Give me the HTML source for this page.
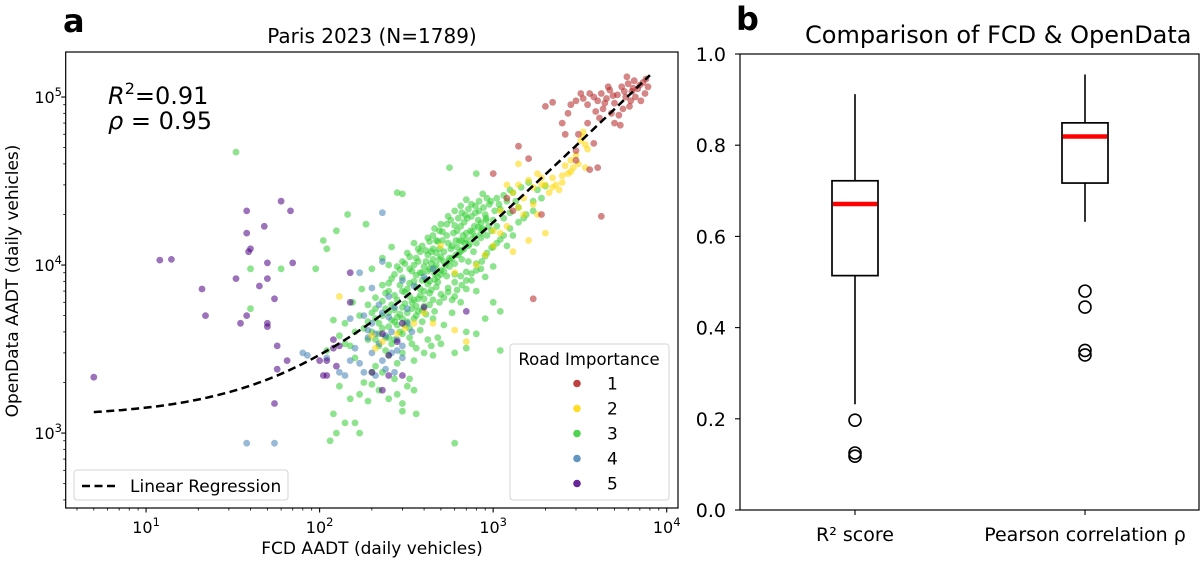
<!DOCTYPE html>
<html><head><meta charset="utf-8">
<style>
html,body{margin:0;padding:0;background:#fff;}
svg{display:block;font-family:"DejaVu Sans","Liberation Sans",sans-serif;}
</style></head>
<body>
<svg id="fig" width="1200" height="561" viewBox="0 0 1200 561" xmlns="http://www.w3.org/2000/svg">
<text x="63" y="32" font-size="32" font-weight="bold">a</text>
<text x="372" y="43" font-size="20" text-anchor="middle">Paris 2023 (N=1789)</text>
<text x="736" y="30" font-size="32" font-weight="bold">b</text>
<text x="805" y="43" font-size="24">Comparison of FCD &amp; OpenData</text>
<g id="scatterG"></g>
<g id="boxG"></g>
</svg>
<script>
// ---------- Panel a data ----------
const classLabels = ["1","2","3","4","5"];
const classColors = ["#b22222","#ffd700","#32cd32","#4682b4","#4b0082"];
const xTickValues = [10,100,1000,10000];
const xTickExps = ["1","2","3","4"];
const yTickValues = [1000,10000,100000];
const yTickExps = ["3","4","5"];
const regIntercept = [1250];
const regSlope = [16.7];
const green = [[180,4200],[190,3600],[200,5200],[210,4800],[220,3900],[230,6100],[240,5500],[250,4300],[250,7000],[260,5800],[270,6600],[280,4900],[290,7600],[300,5600],[300,8400],[310,6900],[320,4600],[330,7800],[340,9200],[350,6200],[360,8700],[370,10500],[380,7200],[390,5400],[400,9800],[410,8200],[420,11500],[430,6800],[440,10200],[450,12500],[460,8900],[470,7400],[480,13800],[490,10800],[500,9300],[520,12000],[540,15000],[560,11000],[580,13000],[600,8800],[620,16000],[640,14000],[660,12200],[680,18000],[700,15500],[720,10500],[750,19500],[780,17000],[800,13500],[830,21000],[860,16500],[900,20000],[950,23000],[1000,18500],[1050,25000],[1100,21500],[1200,24000],[1300,27000],[1400,22000],[150,3300],[160,2800],[170,5000],[130,3800],[140,4500],[120,4700],[110,3100],[155,6000],[175,7200],[200,9500],[230,11000],[260,12800],[210,2500],[240,3100],[270,3600],[300,3900],[330,4200],[360,5000],[400,5700],[450,6200],[500,6700],[550,7300],[600,7900],[650,8600],[700,9100],[800,10200],[900,11300],[1000,12800],[1100,14200],[280,9800],[320,11800],[350,13500],[380,12000],[420,14500],[460,16500],[500,17500],[550,19500],[600,21000],[650,22500],[700,24500],[450,4800],[380,4100],[340,3400],[250,2900],[200,2300],[180,2000],[170,1700],[150,1600],[130,1900],[120,1300],[125,1000],[115,900],[140,1150],[160,1150],[170,1000],[220,1800],[250,1600],[280,1700],[300,1500],[320,1900],[350,2700],[400,3000],[450,2900],[500,3400],[600,3000],[700,3200],[800,3900],[900,4800],[1000,6000],[1100,5300],[200,1950],[190,1550],[600,870],[1100,3100],[1300,15000],[1500,19000],[1200,13000],[1000,9800],[900,8500],[800,7000],[650,6000],[580,5200],[520,4400],[480,3700],[440,3300],[95,9500],[105,14000],[110,12500],[125,16000],[145,20000],[185,17500],[280,27000],[300,26500],[560,38000],[800,35000],[33,47000],[40,9500],[40,5500],[60,9500],[300,1350],[360,1300],[330,2100],[270,2100],[230,2300],[350,1800],[700,4000],[250,10000],[300,10500],[330,9500],[360,11000],[390,9000],[430,9500],[470,10000],[520,10500],[560,9800],[610,11500],[660,10800],[720,13000],[770,12000],[850,14500],[920,15000],[980,16000],[1050,17000],[1150,19000],[1250,20500],[1350,24000],[1450,29000],[1600,31000],[1700,24000],[1800,28000],[1900,25000],[2000,29500],[230,7600],[260,8300],[210,6400],[190,5800],[160,4000],[140,3400],[600,6500],[700,7200],[750,8100],[850,9500],[300,3000],[280,2600],[420,3600],[360,3200],
[200,4000],[210,5500],[220,4500],[230,5000],[240,6800],[250,5200],[260,4700],[270,5400],[280,6200],[290,5100],[300,7000],[310,5900],[320,7200],[330,6500],[340,5500],[350,8000],[360,7400],[370,6300],[380,9000],[390,8100],[400,7000],[410,10500],[420,9200],[430,8000],[440,12000],[450,10800],[460,9600],[470,11800],[480,8500],[490,12500],[500,11200],[510,14000],[530,10000],[550,13500],[570,12500],[590,15500],[610,14000],[630,11500],[650,17000],[670,15000],[690,13500],[710,19000],[740,16000],[760,14500],[790,20500],[820,18500],[850,15500],[880,22000],[910,19000],[940,17000],[970,24000],[1020,21000],[1080,23000],[1150,26000],[1250,28000],[220,3300],[240,3700],[260,3400],[280,4400],[300,4800],[320,5200],[340,6000],[360,5700],[380,6600],[400,6300],[420,7700],[440,7100],[460,8200],[480,7900],[500,8800],[520,9200],[540,8600],[560,10600],[580,11000],[600,10200],[620,12800],[640,11900],[660,13800],[680,12500],[700,14200],[730,13300],[760,15800],[790,14800],[820,16800],[850,17800],[880,16200],[910,18500],[250,7800],[270,8800],[290,9400],[310,10200],[330,11200],[350,10000],[370,12500],[390,13000],[410,12200],[430,13800],[450,15000],[470,14000],[490,16000],[510,15800],[540,17500],[570,18500],[600,17200],[630,19000],[660,20500],[690,19800],[720,21500],[750,23000],[790,22500],[830,24000],[870,26500],[920,25000],[190,4600],[210,3600],[230,4200],[250,3700],[270,4600],[290,4000],[310,4400],[330,3700],[350,4800],[370,5300],[390,4600],[410,5100],[430,5800],[460,5300],[490,6000],[520,6400],[550,6900],[580,6200],[620,7100],[660,7600],[700,8100],[750,8900],[800,9300],[860,10500],[920,11800],[980,12700],[1050,13500],[1150,15000],[1250,16500],[1400,18000],[1550,20000],[1700,21000]];
const yellow = [[1300,27000],[1400,30000],[1500,25000],[1600,32000],[1700,29000],[1800,35000],[2000,30000],[2200,29000],[2300,30000],[2500,34000],[2800,42000],[3000,45000],[3200,55000],[3300,58000],[3500,49000],[2900,38000],[2600,39000],[1900,33000],[1700,23000],[1500,20000],[1200,17000],[1400,22000],[1100,15500],[2000,15500],[1600,14000],[1300,12000],[1000,13000],[900,11500],[800,10000],[130,6500],[200,3800],[230,3500],[280,3900],[400,5200],[600,4100],[700,3500],[500,13000],[600,9000],[1400,40000],[1200,30000],[3400,38000],[3100,40000],[2700,35000],[1800,20000],[210,3200],[310,4200],[450,4500],[350,4500],[2100,27000],[2400,28000],[2500,31000],[2200,33000],[1900,30000],[3300,62000],[3400,52000],[2800,36000],[1100,21000],[1000,16000]];
const red = [[3500,90000],[3800,100000],[4000,95000],[4200,105000],[4500,98000],[4700,110000],[5000,92000],[5200,103000],[5500,115000],[5800,100000],[6000,120000],[6300,108000],[6500,125000],[6800,112000],[7000,118000],[7300,122000],[7500,105000],[7800,115000],[4300,85000],[4800,80000],[5300,78000],[5600,85000],[6200,95000],[6600,100000],[7100,95000],[3600,105000],[3300,98000],[3000,95000],[2800,90000],[4100,75000],[5000,70000],[5400,68000],[6100,88000],[3900,82000],[4400,92000],[4900,102000],[5700,108000],[6400,113000],[7600,128000],[5900,132000],[4600,115000],[3200,105000],[2700,80000],[2200,93000],[2000,88000],[2500,70000],[3100,60000],[3000,48000],[3800,53000],[3600,37000],[4000,38000],[3000,42000],[1600,43000],[1400,51000],[1000,35000],[1900,20000],[4200,19500],[1700,6300],[1300,21000],[1200,25000],[2600,60000],[3500,70000]];
const blue = [[200,4500],[180,5000],[220,5800],[250,6500],[260,4000],[300,3300],[160,3200],[170,2600],[200,3000],[230,2700],[210,2200],[240,2400],[270,2300],[280,3600],[320,5500],[350,7500],[400,8500],[450,9500],[230,20500],[230,10500],[170,9000],[200,7300],[150,4800],[180,2300],[130,2300],[140,2200],[300,8100],[38,870],[55,870],[80,3000],[85,2900],[110,2800],[150,2700],[190,3700],[190,4100],[210,3900],[220,3400],[260,3000],[240,3800],[280,3100],[300,2800],[320,4500],[340,4000],[250,4900],[270,5600],[230,5200]];
const purple = [[5,2150],[12,10700],[14,10800],[21,7200],[22,5000],[33,8300],[35,4500],[38,15500],[39,12000],[40,12500],[38,21000],[38,5000],[45,7500],[48,17000],[50,10300],[50,8300],[50,4500],[50,4300],[55,6300],[57,2400],[57,3300],[60,24000],[68,21000],[70,10300],[65,2700],[55,1500],[100,2700],[105,2200],[110,2200],[110,2700],[150,9000],[150,6000],[120,3600],[120,3200],[130,3300],[125,2500],[300,2200],[280,3500],[400,5600],[230,3900],[700,5300],[300,4500],[250,2200],[200,2300],[230,1800],[250,2900]];

// ---------- Panel b data ----------
const boxLabels = ["R\u00b2 score","Pearson correlation \u03c1"];
const boxQ1 = [0.514,0.717];
const boxMedian = [0.671,0.819];
const boxQ3 = [0.722,0.849];
const whiskerLow = [0.232,0.632];
const whiskerHigh = [0.912,0.955];
const fliers = [[0.197,0.125,0.118],[0.48,0.445,0.35,0.34]];
const bTicks = [0,0.2,0.4,0.6,0.8,1.0];

const NS="http://www.w3.org/2000/svg";
function mk(tag,attrs,parent){const e=document.createElementNS(NS,tag);for(const k in attrs)e.setAttribute(k,attrs[k]);parent.appendChild(e);return e;}

// ---------- Panel a ----------
const A={l:65.7,r:678,t:52,b:508};
const xl0=0.537,xl1=4.065,yl0=2.554,yl1=5.268;
function sx(v){return A.l+(Math.log10(v)-xl0)/(xl1-xl0)*(A.r-A.l);}
function sy(v){return A.b-(Math.log10(v)-yl0)/(yl1-yl0)*(A.b-A.t);}
const g=document.getElementById('scatterG');
const order=[[green,2],[blue,3],[yellow,1],[purple,4],[red,0]];
order.forEach(([arr,ci])=>{
  const grp=mk('g',{},g);
  
  
  arr.forEach(p=>{
    const c=mk('circle',{cx:sx(p[0]).toFixed(1),cy:sy(p[1]).toFixed(1),r:3.4,fill:classColors[ci],'fill-opacity':0.55},grp);
    
    
  });
});
let d='';
for(let i=0;i<=120;i++){const lx=Math.log10(5)+(Math.log10(8000)-Math.log10(5))*i/120;const x=Math.pow(10,lx);const y=regIntercept[0]+regSlope[0]*x;d+=(i?'L':'M')+sx(x).toFixed(1)+','+sy(y).toFixed(1);}
const reg=mk('path',{d:d,fill:'none',stroke:'#000','stroke-width':2.5,'stroke-dasharray':'8,4.5'},g);


const fr=mk('rect',{x:A.l,y:A.t,width:A.r-A.l,height:A.b-A.t,fill:'none',stroke:'#000','stroke-width':1.2},g);


for(let e=0;e<=4;e++){for(let m=1;m<=9;m++){const v=m*Math.pow(10,e);const lv=Math.log10(v);if(lv<xl0||lv>xl1)continue;const x=sx(v);mk('line',{x1:x,x2:x,y1:A.b,y2:A.b+(m==1?4.5:2.5),stroke:'#000','stroke-width':m==1?1.1:0.8},g);}}
xTickValues.forEach((v,i)=>{const t=mk('text',{x:sx(v),y:533,'font-size':16,'text-anchor':'middle'},g);t.innerHTML='10<tspan dy="-7" font-size="11.5">'+xTickExps[i]+'</tspan>';});
for(let e=2;e<=5;e++){for(let m=1;m<=9;m++){const v=m*Math.pow(10,e);const lv=Math.log10(v);if(lv<yl0||lv>yl1)continue;const y=sy(v);mk('line',{x1:A.l,x2:A.l-(m==1?4.5:2.5),y1:y,y2:y,stroke:'#000','stroke-width':m==1?1.1:0.8},g);}}
yTickValues.forEach((v,i)=>{const t=mk('text',{x:62,y:sy(v)+6,'font-size':16,'text-anchor':'end'},g);t.innerHTML='10<tspan dy="-7" font-size="11.5">'+yTickExps[i]+'</tspan>';});
let t=mk('text',{x:372,y:554,'font-size':17,'text-anchor':'middle'},g);t.textContent='FCD AADT (daily vehicles)';


t=mk('text',{x:0,y:0,'font-size':17,'text-anchor':'middle',transform:'translate(18,281) rotate(-90)'},g);t.textContent='OpenData AADT (daily vehicles)';


t=mk('text',{x:108,y:104,'font-size':24},g);t.innerHTML='<tspan font-style="italic">R</tspan><tspan dy="-10" font-size="16">2</tspan><tspan dy="10">=0.91</tspan>';


t=mk('text',{x:108,y:129,'font-size':24},g);t.innerHTML='<tspan font-style="italic">ρ</tspan> = 0.95';


let lg=mk('g',{},g);


mk('rect',{x:510,y:344,width:159,height:156,rx:3,fill:'#fff','fill-opacity':0.85,stroke:'#d4d4d4'},lg);
mk('text',{x:589,y:365,'font-size':16.5,'text-anchor':'middle'},lg).textContent='Road Importance';
classLabels.forEach((lab,i)=>{const yy=383.5+25*i;const c=mk('circle',{cx:577,cy:yy,r:3.8,fill:classColors[i],'fill-opacity':0.85},lg);const tt=mk('text',{x:607,y:yy+6,'font-size':17},lg);tt.textContent=lab;});
lg=mk('g',{},g);


mk('rect',{x:74,y:470,width:214,height:30,rx:3,fill:'#fff','fill-opacity':0.85,stroke:'#d4d4d4'},lg);
mk('line',{x1:82,x2:116,y1:486,y2:486,stroke:'#000','stroke-width':2.5,'stroke-dasharray':'8,4.5'},lg);
mk('text',{x:130,y:492,'font-size':17},lg).textContent='Linear Regression';

// ---------- Panel b ----------
const B={l:740,r:1199,t:54,b:510};
function by(v){return B.b-v*(B.b-B.t);}
const bx=[855,1085];
const hb=23;
const gb=document.getElementById('boxG');
const bf=mk('rect',{x:B.l,y:B.t,width:B.r-B.l,height:B.b-B.t,fill:'none',stroke:'#000','stroke-width':1.2},gb);


bTicks.forEach(v=>{const y=by(v);mk('line',{x1:B.l,x2:B.l-5,y1:y,y2:y,stroke:'#000','stroke-width':1.1},gb);const tt=mk('text',{x:726,y:y+7,'font-size':19,'text-anchor':'end'},gb);tt.textContent=v.toFixed(1);});
boxLabels.forEach((lab,i)=>{
  const x=bx[i];
  const grp=mk('g',{},gb);
  
  
  mk('line',{x1:x,x2:x,y1:by(whiskerHigh[i]),y2:by(boxQ3[i]),stroke:'#000','stroke-width':1.6},grp);
  mk('line',{x1:x,x2:x,y1:by(boxQ1[i]),y2:by(whiskerLow[i]),stroke:'#000','stroke-width':1.6},grp);
  mk('rect',{x:x-hb,y:by(boxQ3[i]),width:2*hb,height:by(boxQ1[i])-by(boxQ3[i]),fill:'#fff',stroke:'#000','stroke-width':1.7},grp);
  mk('line',{x1:x-hb+1,x2:x+hb-1,y1:by(boxMedian[i]),y2:by(boxMedian[i]),stroke:'#ff0000','stroke-width':4.5},grp);
  fliers[i].forEach(f=>{const c=mk('circle',{cx:x,cy:by(f),r:6,fill:'none',stroke:'#000','stroke-width':1.6},grp);});
  mk('line',{x1:x,x2:x,y1:B.b,y2:B.b+5,stroke:'#000','stroke-width':1.1},gb);
  const tt=mk('text',{x:x,y:541,'font-size':19,'text-anchor':'middle'},gb);tt.textContent=lab;
  
  
});
</script>
</body></html>
